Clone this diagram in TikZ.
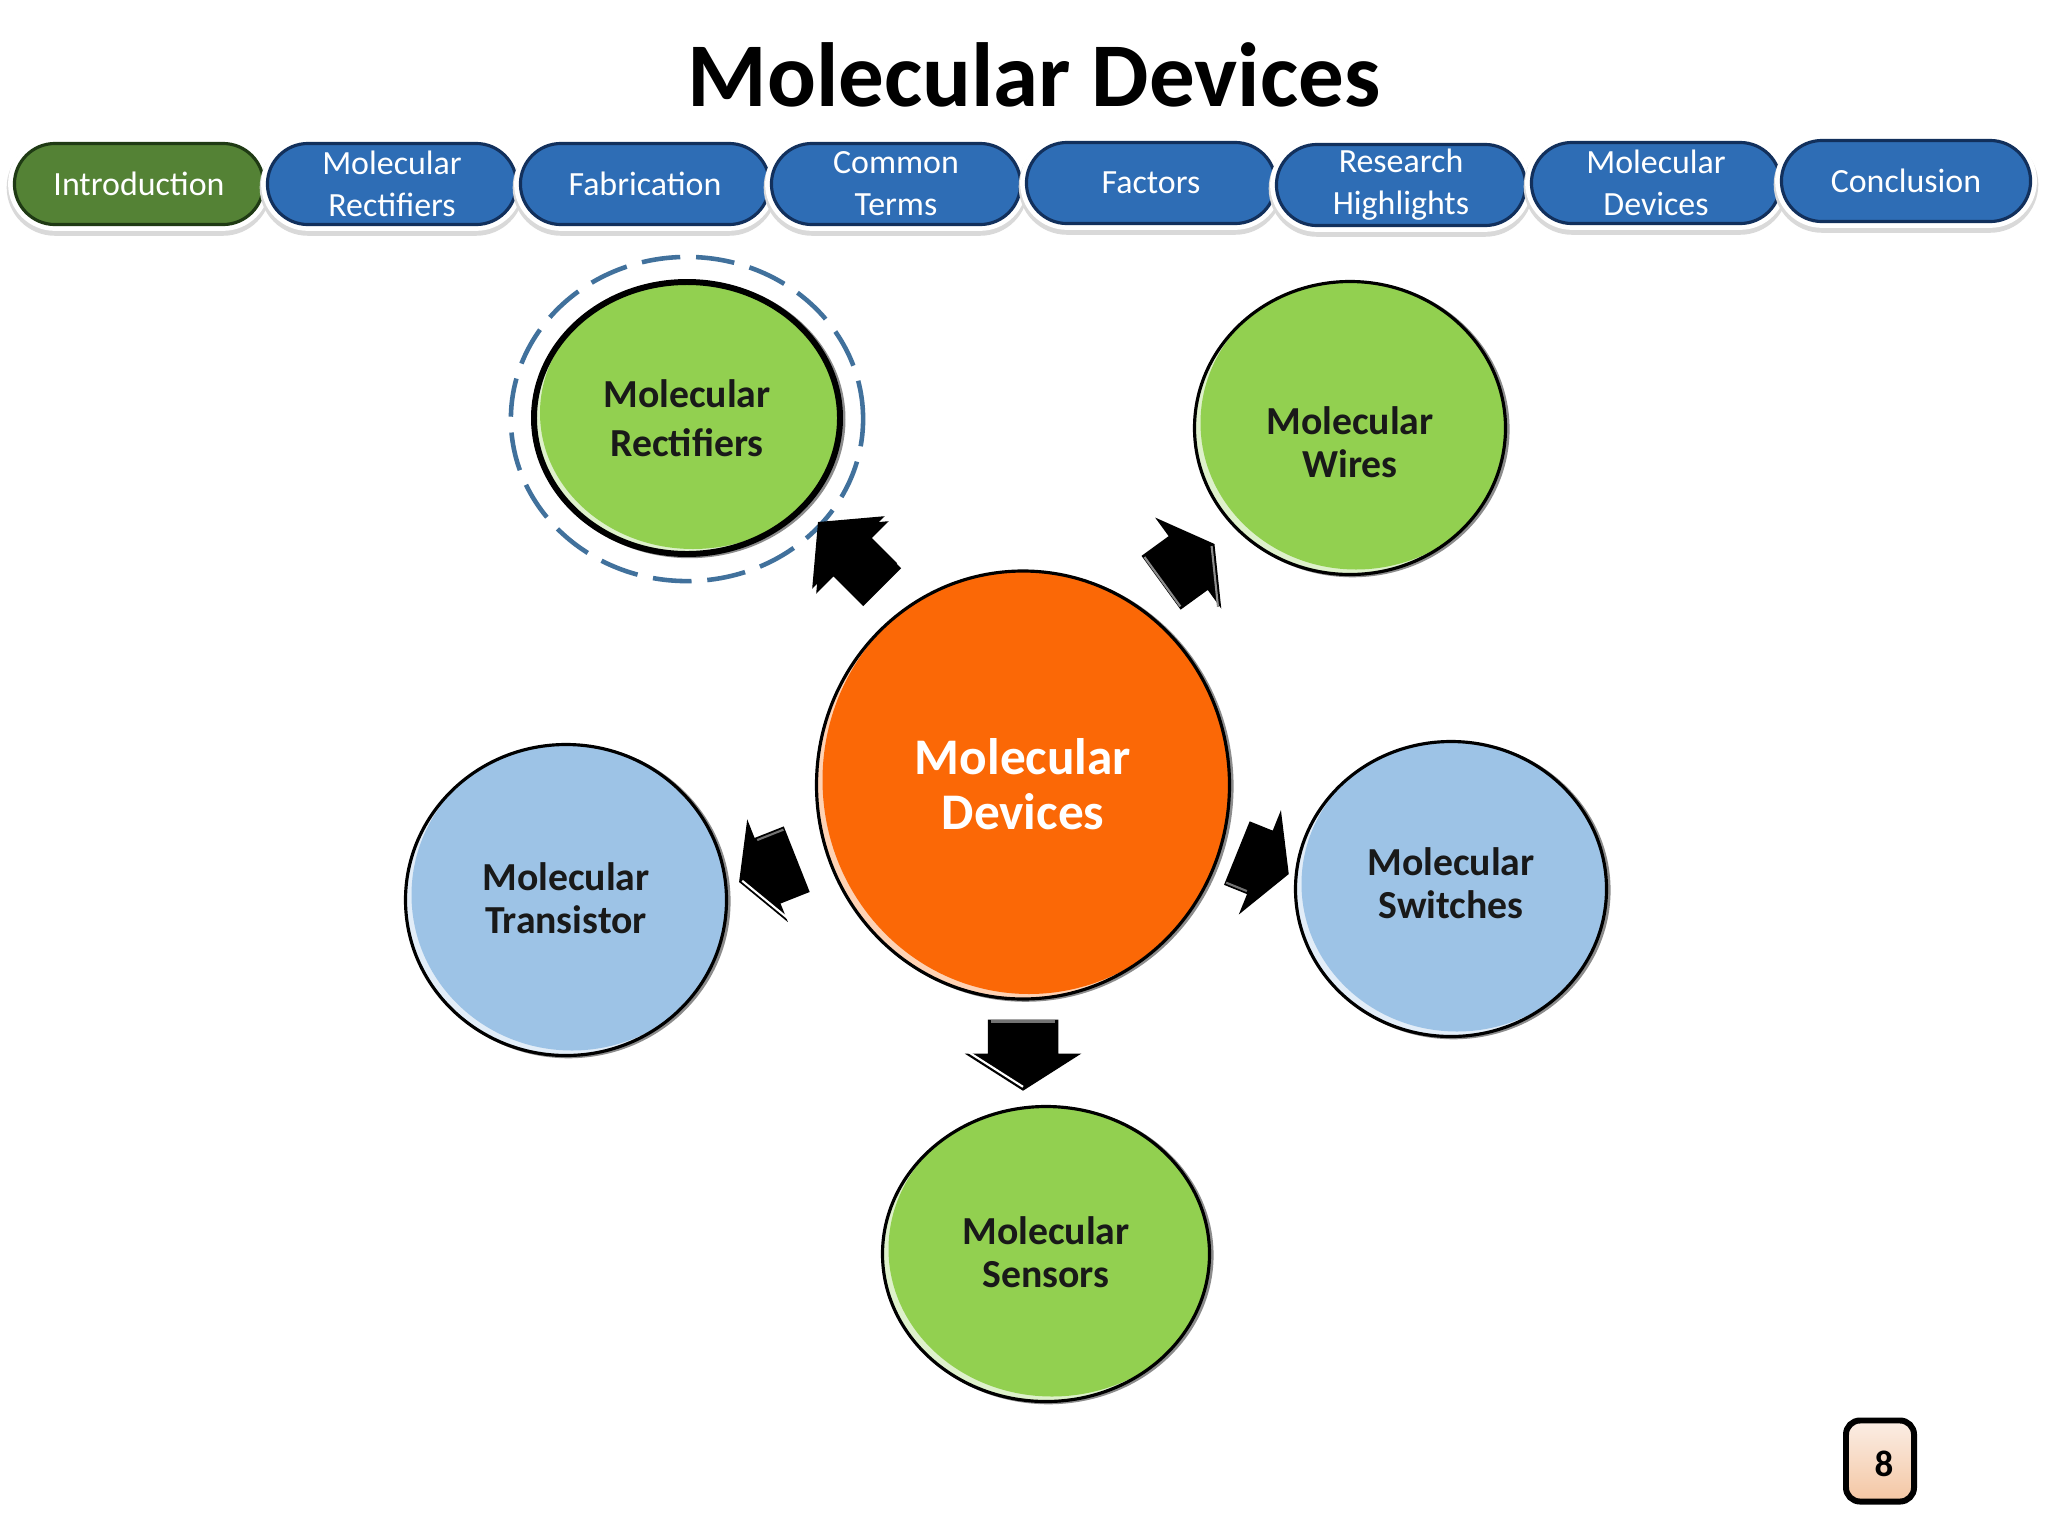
\documentclass[tikz,border=0pt]{standalone}
\usepackage{fontspec}
\setmainfont{Carlito}
\usetikzlibrary{calc,shapes.geometric,shapes.misc,shapes.arrows}

\definecolor{tabblue}{HTML}{2E6DB5}
\definecolor{tabgreen}{HTML}{548235}
\definecolor{tabnavy}{HTML}{12305C}
\definecolor{tabmoss}{HTML}{1F3A14}
\definecolor{leafgreen}{HTML}{92D050}
\definecolor{skyblue}{HTML}{9DC3E6}
\definecolor{hotorange}{HTML}{FB6806}
\definecolor{dashblue}{HTML}{41719C}
\definecolor{peachtop}{HTML}{FBEEE5}
\definecolor{peachlow}{HTML}{F4C6A3}

\tikzset{
    tabbox/.style n args={2}{rounded rectangle,draw=#2,fill=#1,line width=0.9pt,minimum width=2.49cm,minimum height=0.81cm,inner sep=0pt,
        text=white,align=center,font=\fontsize{9.64}{12}\selectfont,
        preaction={draw=black!15,line width=4.4pt,transform canvas={yshift=-0.035cm}},
        preaction={draw=white,line width=3.6pt}},
    bubble/.style n args={3}{ellipse,draw=black,line width=0.9pt,inner sep=0pt,fill=#3!30!white,
        minimum width=#1*0.01cm,minimum height=#2*0.01cm,
        preaction={draw=black!45,transform canvas={xshift=0.025cm,yshift=-0.012cm}},
        path picture={\fill[#3] ([xshift=0.06cm,yshift=0.05cm]path picture bounding box.center) ellipse [x radius=#1/2,y radius=#2/2];}},
    bubbletext/.style={align=center,font=\bfseries\fontsize{11.3}{12.3}\selectfont,text=black!90},
    blockarrow/.style n args={5}{single arrow,fill=black,draw=none,inner xsep=0pt,inner ysep=#3*0.005cm,single arrow tip angle=#5,
        rotate=#1,minimum height=#2*0.01cm,single arrow head extend=#4*0.01cm},
}

\begin{document}
\begin{tikzpicture}[x=0.01cm,y=-0.01cm]
    \useasboundingbox[fill=white] (0,0) rectangle (2048,1536);

    \node (title) at (1034,75) [font=\bfseries\fontsize{25.9}{30}\selectfont] {Molecular Devices};

    % top row
    \node (intro) at (139,184) [tabbox={tabgreen}{tabmoss}] {Introduction};
    \node (rectifiertab) at (392,184) [tabbox={tabblue}{tabnavy}] {Molecular\\Rectifiers};
    \node (fabrication) at (645,184) [tabbox={tabblue}{tabnavy}] {Fabrication};
    \node (common) at (896,184) [tabbox={tabblue}{tabnavy}] {Common\\Terms};
    \node (factors) at (1151,183) [tabbox={tabblue}{tabnavy}] {Factors};
    \node (research) at (1401,185) [tabbox={tabblue}{tabnavy}] {Research\\Highlights};
    \node (devicetab) at (1656,183) [tabbox={tabblue}{tabnavy}] {Molecular\\Devices};
    \node (conclusion) at (1906,181) [tabbox={tabblue}{tabnavy}] {Conclusion};

    % circles
    \node (ring) at (687,419) [ellipse,draw=dashblue,line width=1.3pt,minimum width=3.52cm,minimum height=3.24cm,dash pattern=on 11pt off 4.5pt] {};
    \node (rectifiers) at (687,418) [bubble={306}{272}{leafgreen},line width=1.7pt] {};
    \node (wires) at (1350,428) [bubble={311}{293}{leafgreen}] {};
    \node (devices) at (1023,785) [bubble={413}{428}{hotorange}] {};
    \node (transistor) at (566,900) [bubble={321}{311}{skyblue}] {};
    \node (switches) at (1451,889) [bubble={311}{295}{skyblue}] {};
    \node (sensors) at (1046,1254) [bubble={327}{295}{leafgreen}] {};

    \node (rectifierstext) at (687,418) [bubbletext,font=\bfseries\fontsize{11.3}{13.8}\selectfont] {Molecular\\Rectifiers};
    \node (wirestext) at (1350,442) [bubbletext] {Molecular\\Wires};
    \node (devicestext) at (1023,784) [bubbletext,text=white,font=\bfseries\fontsize{14.6}{15.6}\selectfont] {Molecular\\Devices};
    \node (transistortext) at (566,898) [bubbletext] {Molecular\\Transistor};
    \node (switchestext) at (1451,883) [bubbletext] {Molecular\\Switches};
    \node (sensorstext) at (1046,1252) [bubbletext] {Molecular\\Sensors};

    % block arrows
    \node (rectifiershadow) at (860,565) [fill=black!30,blockarrow={135}{85}{52}{24.5}{100}] {};
    \node (torectifiers) at (856,560) [blockarrow={135}{85}{52}{24.5}{100}] {};
    \node (towires) at (1180,569) [blockarrow={36}{66}{65}{23}{120}] {};
    \node (toswitches) at (1254,860) [blockarrow={-22}{56}{67}{22}{122}] {};
    \node (totransistor) at (777,867) [blockarrow={201.6}{62}{69}{20}{122}] {};
    \node (tosensors) at (1023,1044) [blockarrow={-90}{71}{69}{23}{115}] {};

    % shine on the arrows
    \foreach \arrow/\from/\to/\shine in {tosensors/tip/after tip/white,tosensors/before tail/after tail/black!55,
        totransistor/tip/before tip/white,totransistor/after head/before tail/black!55,
        toswitches/after head/before tail/black!55,
        towires/before tail/after tail/black!45,towires/tip/after tip/black!45}
        \draw[\shine,line width=0.6pt] ($(\arrow.\from)!0.1!(\arrow.center)$) -- ($(\arrow.\to)!0.1!(\arrow.center)$);

    % page number
    \node (page) at (1880,1461) [draw=black,line width=1.7pt,rounded corners=0.14cm,minimum width=0.68cm,minimum height=0.81cm,top color=peachtop,bottom color=peachlow] {};
    \node (pagenumber) at (1884,1464) [font=\bfseries\fontsize{10.5}{12}\selectfont] {8};
\end{tikzpicture}
\end{document}
